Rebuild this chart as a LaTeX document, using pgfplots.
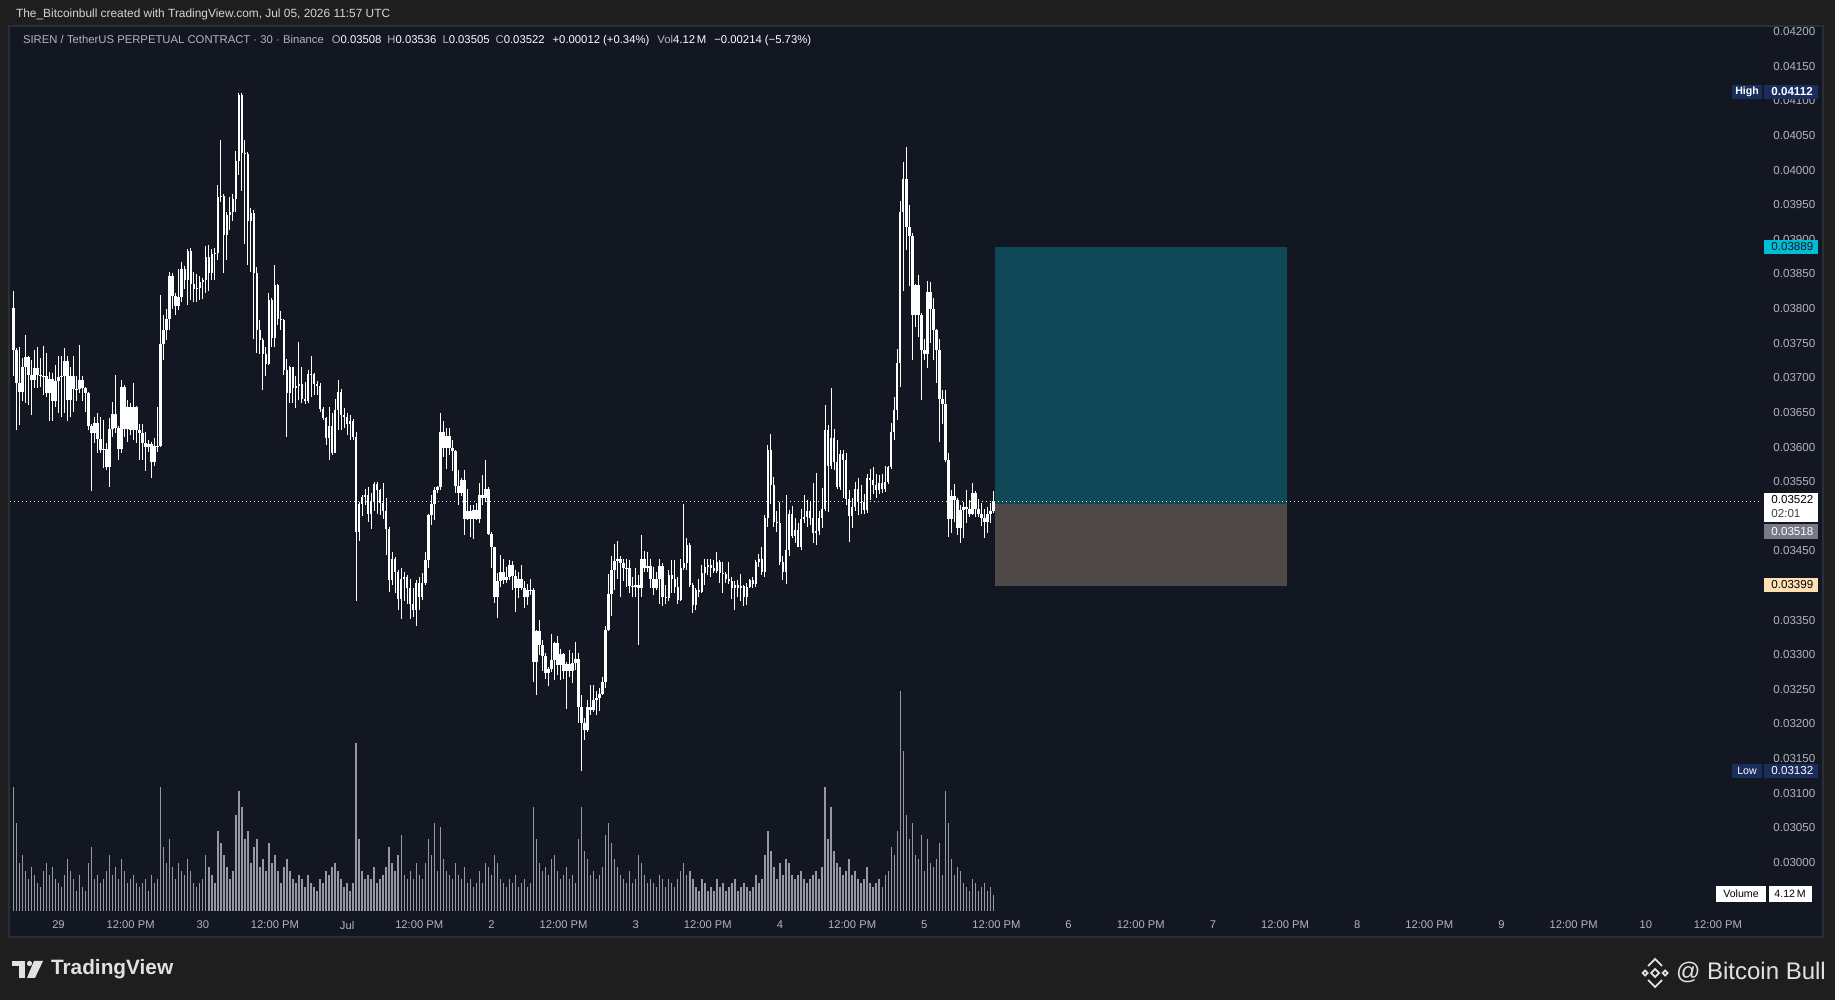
\documentclass[border=0pt]{standalone}
\usepackage{fontspec}
\setmainfont{Liberation Sans}
\usepackage{pgfplots}
\usepackage{pgfplotstable}
\pgfplotsset{compat=1.18}

\definecolor{bgout}{RGB}{30,30,30}
\definecolor{panel}{RGB}{19,23,34}
\definecolor{frame}{RGB}{42,46,57}
\definecolor{axtxt}{RGB}{178,181,190}
\definecolor{hdr}{RGB}{209,212,220}
\definecolor{vol}{RGB}{150,153,162}
\definecolor{tpbox}{RGB}{15,72,87}
\definecolor{slbox}{RGB}{78,72,71}
\definecolor{navy}{RGB}{26,46,94}
\definecolor{cyantag}{RGB}{0,188,212}
\definecolor{greytag}{RGB}{120,123,134}
\definecolor{peach}{RGB}{255,224,178}
\definecolor{logo}{RGB}{225,225,225}

% 30 min candles, first row = Jun 28 16:30, last row = Jul 5 11:30 (volume in millions)
\pgfplotstableread{
o h l c v
0.03801 0.03826 0.03702 0.03740 31
0.03740 0.03743 0.03625 0.03693 22
0.03693 0.03745 0.03632 0.03679 12
0.03679 0.03728 0.03666 0.03716 14
0.03716 0.03762 0.03663 0.03730 10
0.03730 0.03731 0.03661 0.03704 8
0.03704 0.03726 0.03646 0.03697 11
0.03697 0.03740 0.03685 0.03714 9
0.03714 0.03745 0.03685 0.03704 7
0.03704 0.03728 0.03687 0.03703 6
0.03703 0.03746 0.03675 0.03702 10
0.03702 0.03736 0.03673 0.03678 12
0.03678 0.03709 0.03637 0.03699 9
0.03699 0.03707 0.03637 0.03667 11
0.03667 0.03719 0.03658 0.03695 8
0.03695 0.03731 0.03649 0.03701 7
0.03701 0.03732 0.03644 0.03702 6
0.03702 0.03743 0.03649 0.03724 9
0.03724 0.03731 0.03637 0.03668 13
0.03668 0.03716 0.03644 0.03702 10
0.03702 0.03731 0.03651 0.03684 8
0.03684 0.03702 0.03666 0.03684 5
0.03684 0.03748 0.03678 0.03697 9
0.03697 0.03702 0.03666 0.03685 6
0.03685 0.03687 0.03651 0.03678 5
0.03678 0.03680 0.03625 0.03630 12
0.03630 0.03634 0.03536 0.03621 16
0.03621 0.03644 0.03606 0.03635 8
0.03635 0.03649 0.03591 0.03612 9
0.03612 0.03644 0.03591 0.03596 7
0.03596 0.03639 0.03570 0.03597 8
0.03597 0.03606 0.03567 0.03571 10
0.03571 0.03642 0.03543 0.03626 14
0.03626 0.03665 0.03615 0.03648 9
0.03648 0.03704 0.03620 0.03627 11
0.03627 0.03630 0.03581 0.03597 8
0.03597 0.03697 0.03591 0.03687 13
0.03687 0.03690 0.03615 0.03626 10
0.03626 0.03668 0.03608 0.03658 7
0.03658 0.03664 0.03618 0.03624 8
0.03624 0.03693 0.03610 0.03658 9
0.03658 0.03660 0.03606 0.03625 7
0.03625 0.03634 0.03581 0.03621 6
0.03621 0.03633 0.03581 0.03606 7
0.03606 0.03622 0.03565 0.03600 8
0.03600 0.03610 0.03593 0.03605 5
0.03605 0.03608 0.03555 0.03578 9
0.03578 0.03613 0.03572 0.03601 7
0.03601 0.03658 0.03593 0.03602 8
0.03602 0.03820 0.03600 0.03749 31
0.03749 0.03791 0.03726 0.03769 16
0.03769 0.03799 0.03755 0.03785 12
0.03785 0.03853 0.03769 0.03847 18
0.03847 0.03852 0.03800 0.03818 11
0.03818 0.03822 0.03791 0.03804 8
0.03804 0.03857 0.03798 0.03817 12
0.03817 0.03868 0.03810 0.03857 10
0.03857 0.03862 0.03829 0.03842 9
0.03842 0.03886 0.03805 0.03883 13
0.03883 0.03888 0.03812 0.03836 10
0.03836 0.03853 0.03810 0.03828 7
0.03828 0.03850 0.03809 0.03830 6
0.03830 0.03847 0.03813 0.03838 7
0.03838 0.03844 0.03814 0.03841 8
0.03841 0.03890 0.03822 0.03875 14
0.03875 0.03892 0.03825 0.03852 11
0.03852 0.03886 0.03841 0.03879 9
0.03879 0.03887 0.03841 0.03880 7
0.03880 0.03978 0.03870 0.03961 20
0.03961 0.04044 0.03954 0.03963 17
0.03963 0.03966 0.03852 0.03906 14
0.03906 0.03940 0.03870 0.03935 11
0.03935 0.03961 0.03913 0.03940 8
0.03940 0.03966 0.03926 0.03958 10
0.03958 0.04028 0.03939 0.04013 24
0.04013 0.04111 0.03993 0.04109 30
0.04109 0.04112 0.03970 0.04025 26
0.04025 0.04044 0.03894 0.04024 18
0.04024 0.04026 0.03863 0.03926 20
0.03926 0.03945 0.03853 0.03938 12
0.03938 0.03942 0.03756 0.03852 16
0.03852 0.03860 0.03736 0.03769 18
0.03769 0.03784 0.03734 0.03755 11
0.03755 0.03757 0.03683 0.03735 13
0.03735 0.03745 0.03702 0.03720 10
0.03720 0.03822 0.03718 0.03813 17
0.03813 0.03815 0.03745 0.03758 12
0.03758 0.03863 0.03745 0.03834 14
0.03834 0.03836 0.03776 0.03785 10
0.03785 0.03797 0.03769 0.03784 7
0.03784 0.03785 0.03704 0.03712 11
0.03712 0.03727 0.03615 0.03678 13
0.03678 0.03717 0.03663 0.03715 10
0.03715 0.03716 0.03663 0.03685 8
0.03685 0.03702 0.03656 0.03688 7
0.03688 0.03752 0.03668 0.03691 9
0.03691 0.03715 0.03663 0.03670 8
0.03670 0.03694 0.03662 0.03666 6
0.03666 0.03711 0.03664 0.03706 9
0.03706 0.03731 0.03672 0.03705 7
0.03705 0.03707 0.03675 0.03691 6
0.03691 0.03695 0.03675 0.03688 5
0.03688 0.03692 0.03651 0.03655 8
0.03655 0.03658 0.03639 0.03642 7
0.03642 0.03644 0.03603 0.03613 10
0.03613 0.03658 0.03581 0.03630 9
0.03630 0.03649 0.03589 0.03592 11
0.03592 0.03670 0.03591 0.03654 12
0.03654 0.03697 0.03625 0.03680 10
0.03680 0.03684 0.03625 0.03646 8
0.03646 0.03656 0.03627 0.03644 6
0.03644 0.03649 0.03617 0.03634 7
0.03634 0.03646 0.03610 0.03637 5
0.03637 0.03641 0.03610 0.03615 7
0.03615 0.03622 0.03377 0.03478 42
0.03478 0.03520 0.03465 0.03518 18
0.03518 0.03531 0.03500 0.03528 10
0.03528 0.03540 0.03516 0.03531 8
0.03531 0.03543 0.03492 0.03504 9
0.03504 0.03533 0.03481 0.03521 8
0.03521 0.03550 0.03507 0.03547 11
0.03547 0.03550 0.03504 0.03538 7
0.03538 0.03540 0.03502 0.03519 8
0.03519 0.03548 0.03496 0.03508 9
0.03508 0.03526 0.03444 0.03481 11
0.03481 0.03485 0.03391 0.03408 16
0.03408 0.03449 0.03401 0.03438 12
0.03438 0.03441 0.03389 0.03420 10
0.03420 0.03423 0.03365 0.03381 14
0.03381 0.03426 0.03351 0.03409 19
0.03409 0.03420 0.03377 0.03413 9
0.03413 0.03415 0.03373 0.03397 8
0.03397 0.03410 0.03351 0.03374 10
0.03374 0.03396 0.03355 0.03365 8
0.03365 0.03408 0.03341 0.03404 12
0.03404 0.03412 0.03365 0.03383 9
0.03383 0.03418 0.03379 0.03403 8
0.03403 0.03449 0.03401 0.03437 12
0.03437 0.03504 0.03426 0.03502 18
0.03502 0.03531 0.03487 0.03518 14
0.03518 0.03542 0.03495 0.03538 22
0.03538 0.03544 0.03533 0.03542 10
0.03542 0.03649 0.03538 0.03622 21
0.03622 0.03637 0.03586 0.03598 13
0.03598 0.03627 0.03569 0.03616 10
0.03616 0.03627 0.03589 0.03598 9
0.03598 0.03610 0.03565 0.03595 8
0.03595 0.03596 0.03533 0.03544 12
0.03544 0.03567 0.03516 0.03534 9
0.03534 0.03555 0.03530 0.03553 8
0.03553 0.03567 0.03473 0.03496 11
0.03496 0.03540 0.03495 0.03508 7
0.03508 0.03516 0.03470 0.03496 8
0.03496 0.03516 0.03467 0.03509 6
0.03509 0.03519 0.03495 0.03496 7
0.03496 0.03548 0.03490 0.03531 10
0.03531 0.03560 0.03516 0.03526 7
0.03526 0.03581 0.03521 0.03540 12
0.03540 0.03543 0.03473 0.03474 11
0.03474 0.03478 0.03425 0.03455 9
0.03455 0.03456 0.03375 0.03383 14
0.03383 0.03418 0.03353 0.03406 12
0.03406 0.03444 0.03398 0.03419 8
0.03419 0.03439 0.03402 0.03408 7
0.03408 0.03427 0.03403 0.03412 6
0.03412 0.03437 0.03408 0.03430 8
0.03430 0.03435 0.03394 0.03414 7
0.03414 0.03423 0.03362 0.03397 9
0.03397 0.03420 0.03382 0.03410 6
0.03410 0.03430 0.03394 0.03397 7
0.03397 0.03406 0.03367 0.03384 8
0.03384 0.03402 0.03372 0.03393 6
0.03393 0.03409 0.03386 0.03394 7
0.03394 0.03396 0.03261 0.03290 26
0.03290 0.03336 0.03242 0.03334 18
0.03334 0.03350 0.03300 0.03314 12
0.03314 0.03321 0.03276 0.03298 10
0.03298 0.03302 0.03265 0.03274 11
0.03274 0.03283 0.03255 0.03280 9
0.03280 0.03330 0.03275 0.03293 13
0.03293 0.03319 0.03264 0.03317 14
0.03317 0.03327 0.03271 0.03285 10
0.03285 0.03309 0.03264 0.03301 8
0.03301 0.03302 0.03265 0.03277 9
0.03277 0.03289 0.03221 0.03287 11
0.03287 0.03307 0.03268 0.03276 8
0.03276 0.03302 0.03259 0.03288 9
0.03288 0.03319 0.03278 0.03294 7
0.03294 0.03303 0.03201 0.03225 18
0.03225 0.03242 0.03132 0.03201 26
0.03201 0.03208 0.03177 0.03192 15
0.03192 0.03234 0.03188 0.03225 13
0.03225 0.03256 0.03213 0.03220 9
0.03220 0.03256 0.03218 0.03235 10
0.03235 0.03248 0.03213 0.03237 8
0.03237 0.03252 0.03219 0.03244 9
0.03244 0.03268 0.03242 0.03261 11
0.03261 0.03341 0.03252 0.03336 19
0.03336 0.03417 0.03334 0.03388 22
0.03388 0.03443 0.03356 0.03422 17
0.03422 0.03460 0.03394 0.03435 13
0.03435 0.03464 0.03409 0.03438 11
0.03438 0.03443 0.03384 0.03433 9
0.03433 0.03439 0.03406 0.03426 8
0.03426 0.03439 0.03398 0.03425 7
0.03425 0.03437 0.03389 0.03399 10
0.03399 0.03413 0.03383 0.03398 7
0.03398 0.03425 0.03383 0.03401 8
0.03401 0.03415 0.03314 0.03397 14
0.03397 0.03473 0.03384 0.03439 12
0.03439 0.03450 0.03420 0.03426 9
0.03426 0.03448 0.03420 0.03428 7
0.03428 0.03439 0.03396 0.03410 8
0.03410 0.03427 0.03386 0.03397 7
0.03397 0.03420 0.03394 0.03409 6
0.03409 0.03439 0.03374 0.03428 9
0.03428 0.03432 0.03370 0.03384 8
0.03384 0.03401 0.03373 0.03382 6
0.03382 0.03422 0.03377 0.03415 8
0.03415 0.03437 0.03389 0.03410 7
0.03410 0.03437 0.03389 0.03398 6
0.03398 0.03413 0.03373 0.03379 8
0.03379 0.03439 0.03377 0.03425 10
0.03425 0.03518 0.03422 0.03433 12
0.03433 0.03469 0.03422 0.03458 9
0.03458 0.03462 0.03398 0.03401 10
0.03401 0.03403 0.03360 0.03372 8
0.03372 0.03396 0.03365 0.03394 6
0.03394 0.03410 0.03383 0.03391 5
0.03391 0.03430 0.03389 0.03418 8
0.03418 0.03439 0.03401 0.03427 7
0.03427 0.03438 0.03415 0.03430 5
0.03430 0.03439 0.03413 0.03425 6
0.03425 0.03437 0.03418 0.03421 5
0.03421 0.03449 0.03418 0.03434 8
0.03434 0.03437 0.03403 0.03418 6
0.03418 0.03434 0.03389 0.03417 7
0.03417 0.03419 0.03403 0.03409 5
0.03409 0.03434 0.03402 0.03406 6
0.03406 0.03413 0.03381 0.03396 7
0.03396 0.03407 0.03365 0.03401 8
0.03401 0.03408 0.03384 0.03396 5
0.03396 0.03417 0.03377 0.03399 6
0.03399 0.03401 0.03370 0.03384 7
0.03384 0.03403 0.03372 0.03398 6
0.03398 0.03409 0.03396 0.03408 5
0.03408 0.03413 0.03397 0.03402 6
0.03402 0.03437 0.03398 0.03434 9
0.03434 0.03446 0.03427 0.03439 7
0.03439 0.03456 0.03415 0.03419 8
0.03419 0.03502 0.03413 0.03497 14
0.03497 0.03603 0.03484 0.03596 20
0.03596 0.03619 0.03518 0.03545 15
0.03545 0.03557 0.03485 0.03492 11
0.03492 0.03507 0.03478 0.03490 8
0.03490 0.03521 0.03429 0.03434 12
0.03434 0.03443 0.03408 0.03420 9
0.03420 0.03531 0.03402 0.03452 13
0.03452 0.03509 0.03442 0.03503 12
0.03503 0.03515 0.03468 0.03471 9
0.03471 0.03497 0.03461 0.03480 8
0.03480 0.03491 0.03455 0.03456 9
0.03456 0.03510 0.03451 0.03496 10
0.03496 0.03531 0.03490 0.03499 8
0.03499 0.03524 0.03485 0.03507 7
0.03507 0.03521 0.03487 0.03497 8
0.03497 0.03548 0.03462 0.03476 9
0.03476 0.03562 0.03458 0.03479 10
0.03479 0.03507 0.03473 0.03497 8
0.03497 0.03541 0.03483 0.03511 11
0.03511 0.03661 0.03507 0.03625 31
0.03625 0.03632 0.03506 0.03572 18
0.03572 0.03686 0.03569 0.03613 26
0.03613 0.03626 0.03567 0.03579 15
0.03579 0.03610 0.03540 0.03543 12
0.03543 0.03596 0.03538 0.03590 11
0.03590 0.03596 0.03526 0.03582 9
0.03582 0.03591 0.03516 0.03525 10
0.03525 0.03538 0.03463 0.03500 13
0.03500 0.03526 0.03483 0.03514 9
0.03514 0.03550 0.03507 0.03539 10
0.03539 0.03555 0.03502 0.03521 8
0.03521 0.03545 0.03504 0.03520 7
0.03520 0.03532 0.03504 0.03509 8
0.03509 0.03561 0.03505 0.03555 11
0.03555 0.03569 0.03524 0.03552 7
0.03552 0.03571 0.03532 0.03545 6
0.03545 0.03561 0.03526 0.03538 7
0.03538 0.03560 0.03532 0.03548 8
0.03548 0.03561 0.03533 0.03540 6
0.03540 0.03573 0.03535 0.03550 9
0.03550 0.03572 0.03546 0.03571 10
0.03571 0.03635 0.03568 0.03622 16
0.03622 0.03673 0.03610 0.03654 14
0.03654 0.03741 0.03639 0.03722 20
0.03722 0.03955 0.03687 0.03940 55
0.03940 0.04012 0.03825 0.03987 40
0.03987 0.04033 0.03884 0.03918 24
0.03918 0.03950 0.03832 0.03905 18
0.03905 0.03909 0.03726 0.03791 22
0.03791 0.03836 0.03774 0.03834 14
0.03834 0.03849 0.03759 0.03791 13
0.03791 0.03794 0.03668 0.03740 19
0.03740 0.03756 0.03726 0.03735 10
0.03735 0.03840 0.03714 0.03824 18
0.03824 0.03839 0.03750 0.03800 12
0.03800 0.03815 0.03726 0.03769 11
0.03769 0.03771 0.03692 0.03740 13
0.03740 0.03756 0.03608 0.03670 17
0.03670 0.03682 0.03634 0.03662 9
0.03662 0.03683 0.03579 0.03581 30
0.03581 0.03591 0.03470 0.03496 22
0.03496 0.03538 0.03476 0.03529 13
0.03529 0.03547 0.03492 0.03524 9
0.03524 0.03526 0.03473 0.03483 11
0.03483 0.03516 0.03462 0.03509 10
0.03509 0.03521 0.03469 0.03514 7
0.03514 0.03538 0.03490 0.03511 6
0.03511 0.03524 0.03499 0.03504 5
0.03504 0.03548 0.03502 0.03534 8
0.03534 0.03536 0.03499 0.03511 7
0.03511 0.03525 0.03499 0.03503 5
0.03503 0.03519 0.03486 0.03498 6
0.03498 0.03511 0.03468 0.03492 7
0.03492 0.03514 0.03476 0.03503 5
0.03503 0.03519 0.03490 0.03508 6
0.03508 0.03536 0.03505 0.03522 4.12
}\candles

\begin{document}
\begin{tikzpicture}
% page and chart panel (in the scopes 1 unit = 1 pixel of the reference)
\begin{scope}[x=0.5pt,y=0.5pt]
\fill[bgout] (0,0) rectangle (1835,1000);
\fill[panel] (9,63) rectangle (1823,974);
\draw[frame, line width=1pt] (9,63) rectangle (1823,974);
\node[anchor=west, text=hdr, font=\fontsize{5.95pt}{7pt}\selectfont] at (9,986)
  {The\_Bitcoinbull created with TradingView.com, Jul 05, 2026 11:57 UTC};
\node[anchor=west, text=axtxt, font=\fontsize{5.65pt}{7pt}\selectfont] at (16,959)
  {SIREN / TetherUS PERPETUAL CONTRACT · 30 · Binance\hspace{4pt}O\textcolor{white}{0.03508}\hspace{3pt}H\textcolor{white}{0.03536}\hspace{3pt}L\textcolor{white}{0.03505}\hspace{3pt}C\textcolor{white}{0.03522}\hspace{4pt}\textcolor{white}{+0.00012 (+0.34\%)}\hspace{4pt}Vol\textcolor{white}{4.12\,M}\hspace{4pt}\textcolor{white}{−0.00214 (−5.73\%)}};
\end{scope}

% volume pane
\begin{axis}[
    at={(5pt,44.5pt)}, anchor=south west,
    width=875pt, height=442.5pt, scale only axis,
    xmin=-16.13, xmax=566, ymin=0, ymax=221.25,
    hide axis,
  ]
  \addplot[ycomb, draw=vol, line width=0.7pt, mark=none]
    table[x expr=\coordindex-15, y=v] \candles;
\end{axis}

% price pane
\begin{axis}[
    at={(5pt,44.5pt)}, anchor=south west,
    width=875pt, height=442.5pt, scale only axis,
    xmin=-16.13, xmax=566, ymin=0.029299, ymax=0.042082,
    axis line style={draw=none}, tick style={draw=none},
    scaled y ticks=false,
    ytick={0.030,0.0305,0.031,0.0315,0.032,0.0325,0.033,0.0335,0.0345,0.0355,0.036,0.0365,0.037,0.0375,0.038,0.0385,0.039,0.0395,0.040,0.0405,0.041,0.0415,0.042},
    yticklabel pos=right,
    yticklabel style={anchor=west, inner sep=0pt, xshift=6.5pt, text=axtxt,
      font=\fontsize{5.8pt}{7pt}\selectfont,
      /pgf/number format/.cd, fixed, fixed zerofill, precision=5, assume math mode=true},
    xtick={0,24,48,72,96,120,144,168,192,216,240,264,288,312,336,360,384,408,432,456,480,504,528,552},
    xticklabels={29,12:00 PM,30,12:00 PM,Jul,12:00 PM,2,12:00 PM,3,12:00 PM,4,12:00 PM,5,12:00 PM,6,12:00 PM,7,12:00 PM,8,12:00 PM,9,12:00 PM,10,12:00 PM},
    xticklabel style={anchor=center, yshift=-7pt, text=axtxt, font=\fontsize{5.6pt}{7pt}\selectfont},
  ]
  % long position tool
  \fill[tpbox] (axis cs:311.5,0.03518) rectangle (axis cs:408.7,0.03889);
  \fill[slbox] (axis cs:311.5,0.03399) rectangle (axis cs:408.7,0.03518);
  \draw[white, line width=0.5pt, dash pattern=on 0.5pt off 1.5pt]
    (axis cs:-16.13,0.03522) -- (axis cs:566,0.03522);
  % wicks
  \addplot[draw=none, mark=none, forget plot,
    error bars/.cd, y dir=minus, y explicit, error mark=none,
    error bar style={draw=white, line width=0.5pt}]
    table[x expr=\coordindex-15, y=h, y error minus expr=\thisrow{h}-\thisrow{l}] \candles;
  % bodies
  \addplot[draw=none, mark=none, forget plot,
    error bars/.cd, y dir=minus, y explicit, error mark=none,
    error bar style={draw=white, line width=1.25pt}]
    table[x expr=\coordindex-15, y expr={max(\thisrow{o},\thisrow{c})},
          y error minus expr={max(abs(\thisrow{o}-\thisrow{c}),0.000012)}] \candles;
\end{axis}

% price scale tags
\begin{scope}[x=0.5pt,y=0.5pt,font=\fontsize{5.8pt}{7pt}\selectfont]
  \fill[navy] (1732,901) rectangle (1762,915);
  \fill[navy] (1764,901) rectangle (1818,915);
  \node[anchor=center, text=white, font=\fontsize{5.3pt}{6pt}\selectfont\bfseries] at (1747,908) {High};
  \node[anchor=west, inner sep=0pt, text=white, font=\fontsize{5.8pt}{7pt}\selectfont\bfseries] at (1771,908) {0.04112};
  \fill[cyantag] (1764,746) rectangle (1818,760);
  \node[anchor=west, inner sep=0pt, text=panel] at (1771,753) {0.03889};
  \fill[white] (1764,478) rectangle (1818,507);
  \node[anchor=west, inner sep=0pt, text=black] at (1771,500) {0.03522};
  \node[anchor=west, inner sep=0pt, text=black!75] at (1771,486) {02:01};
  \fill[greytag] (1764,461) rectangle (1818,476);
  \node[anchor=west, inner sep=0pt, text=white] at (1771,468.5) {0.03518};
  \fill[peach] (1764,408) rectangle (1818,422);
  \node[anchor=west, inner sep=0pt, text=black] at (1771,415) {0.03399};
  \fill[navy] (1732,222) rectangle (1762,236);
  \fill[navy] (1764,222) rectangle (1818,236);
  \node[anchor=center, text=white, font=\fontsize{5.3pt}{6pt}\selectfont] at (1747,229) {Low};
  \node[anchor=west, inner sep=0pt, text=white] at (1771,229) {0.03132};
  \fill[white] (1716,98) rectangle (1766,114);
  \node[anchor=center, text=black, font=\fontsize{5.3pt}{6pt}\selectfont] at (1741,106) {Volume};
  \fill[white] (1769,98) rectangle (1812,114);
  \node[anchor=center, text=black, font=\fontsize{5.3pt}{6pt}\selectfont] at (1790,106) {4.12\,M};

% footer: TradingView mark and watermark
  \fill[logo] (12,39) rectangle (25,34);
  \fill[logo] (19,34) rectangle (25,22);
  \fill[logo] (29.5,36.5) circle (2.6);
  \fill[logo] (34,39) -- (43,39) -- (35,22) -- (27,22) -- cycle;
  \node[anchor=west, text=logo, font=\fontsize{10.4pt}{12pt}\selectfont\bfseries] at (44,31) {TradingView};
  \begin{scope}[draw=logo, line width=0.9pt]
    \draw (1655,31) -- (1659,27) -- (1655,23) -- (1651,27) -- cycle;
    \draw (1645,29.5) -- (1647.5,27) -- (1645,24.5) -- (1642.5,27) -- cycle;
    \draw (1665,29.5) -- (1667.5,27) -- (1665,24.5) -- (1662.5,27) -- cycle;
    \draw (1648,34) -- (1655,41) -- (1662,34);
    \draw (1648,20) -- (1655,13) -- (1662,20);
  \end{scope}
  \node[anchor=west, text=logo, font=\fontsize{12pt}{14pt}\selectfont] at (1669,28) {@ Bitcoin Bull};
\end{scope}
\end{tikzpicture}
\end{document}
